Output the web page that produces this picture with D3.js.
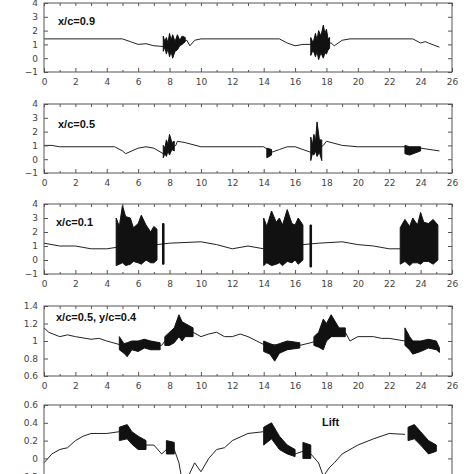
<!DOCTYPE html>
<html><head><meta charset="utf-8">
<script src="https://cdn.jsdelivr.net/npm/d3@7"></script>
<style>body{margin:0;background:#fff}</style></head>
<body><div id="chart"></div>
<script>
// line parts [x, y] and burst envelopes [x, lo, hi]
const labels = ["x/c=0.9", "x/c=0.5", "x/c=0.1", "x/c=0.5, y/c=0.4", "Lift"];
const xTicks = d3.range(0, 27, 2);

const line09 = [[0,1.4],[5,1.4],[5.5,1.2],[6,1.0],[6.5,1.05],[7,0.9],[7.6,0.85],[9.1,1.3],[9.3,0.9],[9.6,1.3],[10,1.4],[15,1.4],[15.5,1.1],[16,0.9],[16.5,1.0],[17,1.0],[18.3,1.1],[18.5,0.9],[19,1.3],[19.5,1.4],[23.5,1.4],[24,1.1],[24.3,1.2],[24.5,1.1],[25.2,0.8]];
const burst09 = [[[7.6,0.5,1.6],[7.7,0.8,1.2],[7.8,0.3,1.5],[7.9,0.7,1.1],[8,0.1,1.8],[8.1,0.5,1.3],[8.2,0,1.7],[8.35,0.5,1.2],[8.5,0.6,1.7],[8.65,0.9,1.3],[8.8,1.0,1.6],[9.0,1.2,1.5]],
                 [[17,0.2,1.5],[17.15,0.6,1.1],[17.3,0.1,1.8],[17.4,0.5,1.3],[17.5,-0.1,2.0],[17.65,0.4,1.6],[17.8,0,2.4],[17.9,0.4,1.8],[18,0.3,2.1],[18.1,0.6,1.4],[18.2,0.7,1.5]]];

const line05 = [[0,1.0],[0.5,1.0],[1,0.9],[4.5,0.9],[5,0.6],[5.2,0.4],[6,0.8],[6.5,0.9],[7,0.8],[7.6,0.4],[8.4,1.0],[8.5,1.3],[9,1.2],[10,0.9],[14,0.9],[14.5,0.5],[15,0.7],[15.5,0.9],[16,0.9],[16.5,0.7],[17,0.5],[17.8,1.0],[18,1.3],[19,1.0],[20,0.9],[23,0.9],[23.3,0.5],[24,0.8],[25.2,0.6]];
const burst05 = [[[7.6,0.1,1.0],[7.7,0.4,0.8],[7.8,0.2,1.4],[7.9,0.6,1.1],[8,0.3,1.8],[8.15,0.7,1.2],[8.3,0.6,1.3]],
                 [[14.2,0.1,0.8],[14.5,0.3,0.7]],
                 [[17,-0.1,1.6],[17.1,0.4,1.0],[17.2,0.3,1.8],[17.3,0.6,1.3],[17.4,0.2,2.7],[17.55,0.5,1.4],[17.7,-0.1,1.4]],
                 [[23.0,0.4,1.0],[23.3,0.3,0.9],[24,0.6,0.9]]];

const line01 = [[0,1.2],[1,1.0],[2,1.0],[3,0.8],[4,0.8],[4.6,0.9],[7.2,1.1],[8,1.2],[10,1.3],[11,1.1],[12,0.8],[13,1.0],[14,0.8],[16.5,1.1],[17.5,1.2],[19,1.3],[20,1.1],[21,1.0],[22,0.8],[22.7,0.8]];
const burst01 = [[[4.6,-0.4,3.0],[4.8,-0.3,2.4],[5,-0.2,3.9],[5.2,-0.4,3.1],[5.5,-0.3,3.0],[5.7,-0.1,2.3],[6,-0.2,2.6],[6.2,-0.3,3.2],[6.5,0,2.5],[6.8,-0.2,2.0],[7,-0.2,2.4],[7.2,0,2.2]],
                 [[7.55,-0.3,2.6],[7.65,-0.3,2.6]],
                 [[14,-0.4,3.0],[14.2,-0.2,2.4],[14.5,-0.4,3.5],[14.8,-0.3,2.7],[15,-0.2,3.0],[15.2,-0.4,2.5],[15.5,-0.1,3.6],[15.8,-0.2,2.6],[16,0,2.5],[16.2,-0.3,3.0],[16.5,0,2.5]],
                 [[16.95,-0.5,2.5],[17.05,-0.5,2.5]],
                 [[22.7,-0.3,2.3],[23,-0.1,2.9],[23.3,-0.4,2.4],[23.5,-0.2,3.0],[23.8,-0.2,2.5],[24,-0.3,3.4],[24.2,-0.1,2.7],[24.5,-0.1,2.6],[24.8,-0.3,2.9],[25.1,0,2.5]]];

const line0504 = [[0,1.15],[0.3,1.1],[1,1.05],[1.5,1.07],[2,1.05],[3,1.02],[3.5,1.03],[4,1.0],[4.8,0.96],[7.5,0.95],[7.7,1.0],[9.5,1.1],[10,1.05],[10.5,1.08],[11,1.1],[11.5,1.05],[12,1.05],[12.5,1.08],[13,1.05],[14,0.96],[16.3,0.95],[17,0.98],[19.2,1.1],[19.5,1.0],[20,1.05],[21,1.05],[21.5,1.03],[22,1.03],[23,1.0]];
const burst0504 = [[[4.8,0.9,1.05],[5.1,0.86,0.97],[5.3,0.82,0.98],[5.6,0.9,1.0],[6,0.88,1.0],[6.4,0.92,1.02],[6.8,0.9,1.0],[7.4,0.9,0.98]],
                   [[7.7,0.95,1.05],[8,0.95,1.1],[8.3,0.98,1.15],[8.6,1.05,1.3],[8.8,1.0,1.22],[9,1.05,1.2],[9.5,1.05,1.15]],
                   [[14,0.88,1.0],[14.4,0.85,0.97],[14.7,0.77,0.95],[15,0.86,0.97],[15.5,0.9,1.0],[16.3,0.92,0.98]],
                   [[17.2,0.95,1.05],[17.5,0.93,1.1],[17.8,0.9,1.25],[18,1.0,1.2],[18.3,1.05,1.3],[18.8,1.05,1.15],[19.2,1.05,1.15]],
                   [[23,0.95,1.15],[23.3,0.9,1.05],[23.5,0.85,1.0],[24,0.88,1.0],[24.5,0.92,1.02],[25,0.9,1.0],[25.2,0.87,0.92]]];

const lineLift = [[0,-0.05],[0.5,0.05],[1,0.1],[1.5,0.12],[2,0.2],[2.5,0.25],[3,0.28],[4,0.28],[4.8,0.3],[6.5,0.15],[7,0.15],[7.5,0.05],[7.8,0.1],[8.3,0.1],[8.6,-0.05],[8.8,-0.25],[9.2,-0.2],[9.6,-0.05],[10,-0.15],[10.5,0],[11,0.1],[11.5,0.12],[12,0.2],[13,0.28],[14,0.3],[16,0.05],[16.5,0.08],[17,0.05],[17.5,-0.05],[17.8,-0.2],[18.2,-0.1],[18.5,-0.05],[19,0.05],[19.5,0.1],[20,0.15],[21,0.22],[22,0.28],[23,0.27]];
const burstLift = [[[4.8,0.2,0.35],[5.3,0.22,0.38],[5.6,0.16,0.3],[6,0.1,0.25],[6.5,0.1,0.2]],
                   [[7.8,0.05,0.2],[8.3,0.05,0.18]],
                   [[14,0.15,0.35],[14.5,0.22,0.4],[15,0.1,0.25],[15.5,0.05,0.15],[16,0.02,0.1]],
                   [[16.5,0,0.18],[17,0,0.15]],
                   [[23.2,0.2,0.35],[23.6,0.22,0.38],[24,0.15,0.3],[24.5,0.05,0.2],[25,0.08,0.15]]];

const panels = [
  {label: labels[0], line: line09, bursts: burst09, dom: [-1,4], ticks: d3.range(-1,5), top: 3, bot: 72, lx: 58, ly: 25},
  {label: labels[1], line: line05, bursts: burst05, dom: [-1,4], ticks: d3.range(-1,5), top: 104, bot: 173, lx: 58, ly: 128},
  {label: labels[2], line: line01, bursts: burst01, dom: [-1,4], ticks: d3.range(-1,5), top: 204, bot: 274, lx: 56, ly: 226},
  {label: labels[3], line: line0504, bursts: burst0504, dom: [0.6,1.4], ticks: [0.6,0.8,1,1.2,1.4], top: 306, bot: 376, lx: 56, ly: 321},
  {label: labels[4], line: lineLift, bursts: burstLift, dom: [-0.4,0.6], ticks: [-0.4,-0.2,0,0.2,0.4,0.6], top: 405, bot: 494, lx: 322, ly: 426}
];

const svg = d3.select('#chart').append('svg').attr('width', 474).attr('height', 474);
const x = d3.scaleLinear().domain([0, 26]).range([44, 452]);
const fmt = d => (d < 0 ? '\u2212' + Math.abs(d) : '' + d);

panels.forEach(p => {
  const y = d3.scaleLinear().domain(p.dom).range([p.bot, p.top]);
  const g = svg.append('g');
  const cid = 'c' + p.top;
  svg.append('clipPath').attr('id', cid).append('rect')
    .attr('x', 44).attr('y', p.top).attr('width', 408).attr('height', p.bot - p.top);
  const body = g.append('g').attr('clip-path', `url(#${cid})`);

  body.append('path').datum(p.line)
    .attr('fill', 'none').attr('stroke', '#222').attr('stroke-width', 1)
    .attr('d', d3.line().x(d => x(d[0])).y(d => y(d[1])));
  p.bursts.forEach(b => {
    body.append('path').datum(b)
      .attr('fill', '#111').attr('stroke', '#111').attr('stroke-width', 1)
      .attr('d', d3.area().x(d => x(d[0])).y0(d => y(d[1])).y1(d => y(d[2])));
  });

  g.append('rect').attr('x', 44).attr('y', p.top).attr('width', 408).attr('height', p.bot - p.top)
    .attr('fill', 'none').attr('stroke', '#555');

  const tickStyle = s => {
    s.select('.domain').remove();
    s.selectAll('line').attr('stroke', '#555');
    s.selectAll('text').attr('fill', '#444').attr('font-family', 'DejaVu Sans, sans-serif').attr('font-size', 9);
  };
  if (p.bot < 474) {
    g.append('g').attr('transform', `translate(0,${p.bot})`)
      .call(d3.axisBottom(x).tickValues(xTicks).tickSize(-4).tickPadding(7).tickFormat(d3.format('d')))
      .call(tickStyle);
  }
  g.append('g').attr('transform', `translate(0,${p.top})`)
    .call(d3.axisTop(x).tickValues(d3.range(0, 27, 1)).tickSize(-3).tickFormat(''))
    .call(tickStyle);
  g.append('g').attr('transform', `translate(0,${p.bot})`)
    .call(d3.axisBottom(x).tickValues(d3.range(1, 26, 2)).tickSize(-2).tickFormat(''))
    .call(tickStyle);
  g.append('g').attr('transform', 'translate(44,0)')
    .call(d3.axisLeft(y).tickValues(p.ticks).tickSize(-4).tickPadding(6).tickFormat(fmt))
    .call(tickStyle);
  g.append('g').attr('transform', 'translate(452,0)')
    .call(d3.axisRight(y).tickValues(p.ticks).tickSize(-4).tickFormat(''))
    .call(tickStyle);

  g.append('text').attr('x', p.lx).attr('y', p.ly)
    .attr('font-family', 'Liberation Sans, Arial, sans-serif').attr('font-weight', 'bold')
    .attr('font-size', 11).attr('fill', '#111').text(p.label);
});
</script></body></html>
